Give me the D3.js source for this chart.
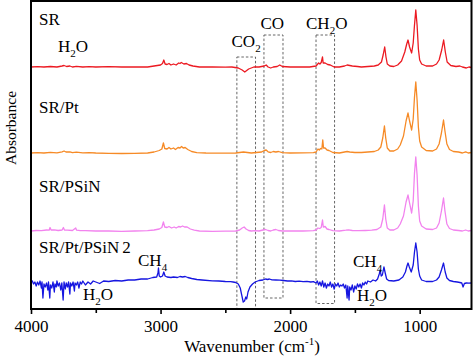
<!DOCTYPE html>
<html><head><meta charset="utf-8">
<script src="https://cdn.jsdelivr.net/npm/d3@7"></script>
<style>
body{margin:0;background:#fff}
svg text{font-family:"Liberation Serif","Times New Roman",Times,"DejaVu Serif",serif !important;fill:#000}
</style>
</head><body>
<svg id="c" width="474" height="358"></svg>
<script>
// ---------- data ----------
const xTicks = [4000, 3000, 2000, 1000];
const xMinorTicks = [3500, 2500, 1500];
const seriesNames = ["SR", "SR/Pt", "SR/PSiN", "SR/Pt/PSiN2"];
const seriesColors = ["#ec1a22", "#f68a26", "#f283ee", "#1616e0"];
const offsets = [2.42, 1.56, 0.78, 0.27];

const srData = [[4000,0],[3950,0.003],[3900,0],[3850,0.005],[3800,0],[3760,0.01],[3745,0.015],[3725,0.005],[3700,0.01],[3680,0],[3650,0.007],[3600,0],[3550,0.004],[3500,0],[3400,0.003],[3300,0],[3200,0.002],[3100,0],[3050,0.01],[3000,0.02],[2985,0.035],[2975,0.07],[2965,0.03],[2950,0.025],[2935,0.035],[2920,0.02],[2900,0.03],[2880,0.02],[2860,0.04],[2850,0.035],[2840,0.045],[2820,0.03],[2800,0.035],[2780,0.02],[2750,0.01],[2700,0],[2600,0],[2500,-0.002],[2450,0],[2400,-0.01],[2370,-0.03],[2350,-0.05],[2335,-0.035],[2320,-0.02],[2300,-0.01],[2280,0],[2240,0],[2200,0.01],[2185,0.02],[2170,0],[2150,-0.01],[2130,0],[2100,0.005],[2080,0.02],[2060,0.005],[2000,0],[1950,0.002],[1900,0],[1850,0],[1800,0.01],[1780,0.04],[1770,0.03],[1760,0.045],[1750,0.1],[1745,0.04],[1730,0.04],[1710,0.025],[1690,0.02],[1660,0],[1620,0],[1580,0.01],[1560,0.02],[1540,0.015],[1520,0.01],[1480,0.005],[1450,0],[1400,0.005],[1350,0.01],[1320,0.02],[1295,0.05],[1282,0.12],[1270,0.2],[1260,0.1],[1250,0.03],[1230,0.01],[1200,0.005],[1170,0.02],[1140,0.06],[1115,0.15],[1100,0.23],[1090,0.27],[1078,0.2],[1062,0.14],[1050,0.24],[1040,0.42],[1030,0.57],[1020,0.42],[1010,0.18],[1000,0.07],[985,0.03],[950,0.01],[900,0.01],[870,0.03],[850,0.07],[830,0.17],[815,0.27],[802,0.15],[788,0.05],[760,0.015],[720,0.005],[690,0.01],[670,0],[640,-0.01],[620,0],[600,-0.005]];

const srPtData = [[4000,0],[3950,0.003],[3900,0],[3850,0.006],[3800,0.002],[3760,0.012],[3745,0.02],[3730,0.01],[3700,0.012],[3680,0.004],[3650,0.008],[3600,0.002],[3550,0.004],[3500,0],[3400,-0.003],[3300,-0.005],[3200,-0.003],[3100,0],[3050,0.01],[3010,0.025],[2990,0.04],[2978,0.1],[2968,0.045],[2950,0.04],[2935,0.055],[2920,0.04],[2900,0.05],[2885,0.035],[2865,0.055],[2850,0.05],[2838,0.065],[2825,0.05],[2810,0.055],[2790,0.035],[2760,0.015],[2720,0.003],[2650,0],[2500,-0.002],[2420,0],[2390,0.005],[2360,0.01],[2330,0.005],[2300,0],[2260,0.005],[2220,0.01],[2200,0.025],[2185,0.03],[2170,0.012],[2150,0.005],[2130,0.015],[2110,0.01],[2090,0.015],[2060,0.003],[2000,0],[1900,0.002],[1820,0.003],[1800,0.01],[1785,0.04],[1775,0.03],[1765,0.045],[1755,0.04],[1748,0.13],[1742,0.05],[1730,0.05],[1715,0.03],[1700,0.025],[1670,0.005],[1620,0],[1580,0.01],[1560,0.015],[1540,0.01],[1500,0.005],[1450,0.005],[1400,0.01],[1350,0.015],[1320,0.03],[1300,0.06],[1285,0.15],[1272,0.27],[1262,0.15],[1250,0.05],[1230,0.02],[1200,0.02],[1170,0.04],[1150,0.08],[1125,0.17],[1105,0.32],[1090,0.4],[1078,0.32],[1062,0.23],[1050,0.34],[1040,0.56],[1030,0.71],[1020,0.53],[1010,0.26],[1000,0.12],[985,0.06],[950,0.025],[900,0.02],[870,0.04],[850,0.09],[832,0.2],[816,0.33],[805,0.22],[790,0.09],[770,0.035],[740,0.015],[700,0.01],[670,0],[645,0.012],[625,0],[600,0.005]];

const srPsinData = [[4000,0],[3960,0.005],[3920,0.003],[3880,0.01],[3860,0.008],[3853,0.035],[3845,0.01],[3820,0.012],[3790,0.005],[3760,0.01],[3750,0.035],[3742,0.01],[3720,0.008],[3680,0.005],[3655,0.03],[3648,0.008],[3620,0.004],[3580,0.003],[3500,0],[3400,0],[3300,-0.003],[3200,0],[3100,0.003],[3050,0.01],[3010,0.02],[2990,0.035],[2978,0.09],[2968,0.04],[2950,0.035],[2935,0.045],[2915,0.03],[2895,0.04],[2880,0.03],[2860,0.045],[2845,0.04],[2830,0.05],[2815,0.04],[2795,0.04],[2770,0.02],[2740,0.008],[2700,0],[2600,-0.003],[2500,-0.002],[2420,0],[2390,0.01],[2370,0.03],[2355,0.04],[2340,0.02],[2320,0.005],[2300,0],[2270,0.003],[2240,0],[2210,0.01],[2190,0.015],[2170,0.005],[2150,0],[2130,0.01],[2110,0.015],[2090,0.005],[2060,0],[2000,0],[1900,0],[1820,0.003],[1800,0.01],[1785,0.03],[1772,0.025],[1760,0.035],[1750,0.11],[1744,0.04],[1730,0.045],[1715,0.02],[1700,0.015],[1670,0.003],[1620,0],[1570,0.008],[1550,0.012],[1520,0.005],[1470,0.003],[1420,0.005],[1370,0.008],[1330,0.015],[1300,0.04],[1285,0.12],[1272,0.26],[1262,0.12],[1250,0.03],[1230,0.01],[1200,0.01],[1170,0.03],[1150,0.07],[1125,0.15],[1105,0.29],[1090,0.36],[1078,0.28],[1062,0.18],[1050,0.3],[1040,0.58],[1030,0.74],[1020,0.56],[1010,0.25],[1000,0.1],[985,0.05],[950,0.02],[900,0.015],[870,0.03],[850,0.08],[832,0.2],[816,0.33],[805,0.2],[790,0.07],[770,0.025],[740,0.01],[700,0.005],[670,0],[645,0.01],[625,0],[600,0.005]];

const srPtPsinData = [[4000,0],[3990,0.01],[3980,-0.02],[3970,0],[3960,-0.04],[3950,0],[3940,-0.03],[3930,0.01],[3920,-0.06],[3915,0],[3908,-0.16],[3900,-0.02],[3890,-0.05],[3880,-0.01],[3870,-0.08],[3865,0],[3855,-0.16],[3850,-0.03],[3840,-0.06],[3830,0],[3820,-0.1],[3815,-0.02],[3805,-0.05],[3800,0.01],[3790,-0.04],[3780,-0.01],[3770,-0.08],[3762,-0.01],[3752,-0.18],[3745,0],[3735,-0.07],[3728,-0.01],[3718,-0.05],[3710,0],[3700,-0.12],[3695,-0.01],[3685,-0.04],[3675,0],[3665,-0.09],[3660,-0.01],[3650,-0.03],[3640,0],[3630,-0.06],[3620,0],[3610,-0.02],[3600,0.01],[3580,-0.03],[3560,0],[3540,-0.02],[3520,0.01],[3500,0],[3470,-0.015],[3440,0.01],[3400,0.005],[3350,0.015],[3300,0.01],[3250,0.02],[3200,0.02],[3150,0.03],[3100,0.03],[3060,0.045],[3030,0.05],[3020,0.09],[3016,0.14],[3010,0.06],[3000,0.05],[2985,0.06],[2975,0.1],[2965,0.06],[2950,0.05],[2920,0.045],[2900,0.05],[2870,0.045],[2850,0.055],[2830,0.05],[2810,0.055],[2790,0.045],[2760,0.035],[2720,0.025],[2680,0.02],[2600,0.012],[2550,0.01],[2500,0.005],[2460,0.003],[2440,0],[2420,-0.005],[2400,-0.02],[2385,-0.06],[2372,-0.14],[2362,-0.2],[2352,-0.19],[2342,-0.15],[2335,-0.17],[2325,-0.1],[2310,-0.05],[2290,-0.02],[2270,0],[2240,0.015],[2210,0.02],[2190,0.03],[2175,0.025],[2160,0.03],[2140,0.022],[2110,0.02],[2080,0.018],[2050,0.015],[2020,0.01],[1990,0.012],[1960,0.005],[1930,0.008],[1900,0.003],[1870,0.006],[1840,0],[1820,0.004],[1800,-0.01],[1790,0.01],[1780,-0.03],[1770,0],[1760,-0.04],[1750,0.01],[1740,-0.05],[1730,-0.01],[1720,-0.06],[1710,-0.02],[1700,-0.04],[1690,0],[1680,-0.05],[1670,-0.02],[1660,-0.07],[1650,-0.02],[1640,-0.04],[1630,-0.01],[1620,-0.05],[1610,-0.03],[1600,-0.04],[1590,-0.02],[1580,-0.06],[1570,-0.03],[1560,-0.16],[1555,-0.04],[1545,-0.18],[1540,-0.05],[1530,-0.08],[1520,-0.03],[1510,-0.1],[1500,-0.04],[1490,-0.07],[1480,-0.02],[1470,-0.05],[1460,-0.02],[1450,-0.06],[1440,-0.01],[1430,-0.03],[1420,0],[1410,-0.02],[1400,0.01],[1380,0],[1360,0.02],[1340,0.01],[1325,0.03],[1312,0.08],[1305,0.12],[1297,0.06],[1288,0.07],[1276,0.15],[1266,0.09],[1255,0.03],[1240,0.015],[1200,0.01],[1160,0.02],[1130,0.05],[1110,0.1],[1098,0.16],[1090,0.19],[1080,0.15],[1065,0.1],[1050,0.17],[1040,0.3],[1030,0.39],[1020,0.3],[1010,0.13],[1000,0.06],[985,0.02],[950,0.005],[900,0.005],[870,0.02],[850,0.05],[832,0.12],[816,0.19],[803,0.1],[790,0.04],[770,0.015],[740,0.005],[710,0],[690,-0.005],[675,-0.01],[665,-0.05],[655,-0.015],[640,-0.01],[620,-0.012],[600,-0.01]];

const seriesData = [srData, srPtData, srPsinData, srPtPsinData];

// annotation boxes: wavenumber range and absorbance top/bottom
const boxLefts = [2411, 2202, 1800];
const boxRights = [2267, 2055, 1657];
const boxTops = [2.52, 2.74, 2.74];
const boxBottoms = [0, 0.11, 0.055];

// ---------- chart ----------
const FONT = '"Liberation Serif","Times New Roman",Times,"DejaVu Serif",serif';
const svg = d3.select("#c");
const x = d3.scaleLinear().domain([4000, 600]).range([31, 471.5]);
const y = d3.scaleLinear().domain([0, 3.07]).range([309, 2]);

svg.append("defs").append("clipPath").attr("id", "clip")
  .append("rect").attr("x", 31).attr("y", 1).attr("width", 440.5).attr("height", 308);

// dashed boxes
const gb = svg.append("g");
boxLefts.forEach((l, i) => {
  gb.append("rect")
    .attr("x", x(l)).attr("y", y(boxTops[i]))
    .attr("width", x(boxRights[i]) - x(l))
    .attr("height", y(boxBottoms[i]) - y(boxTops[i]))
    .attr("fill", "none").attr("stroke", "#555").attr("stroke-width", 0.9)
    .attr("stroke-dasharray", "2.5,2");
});

// spectra
const gl = svg.append("g").attr("clip-path", "url(#clip)");
seriesData.forEach((d, i) => {
  const line = d3.line().x(p => x(p[0])).y(p => y(p[1] + offsets[i]));
  gl.append("path").datum(d).attr("d", line)
    .attr("fill", "none").attr("stroke", seriesColors[i])
    .attr("stroke-width", 1.3).attr("stroke-linejoin", "round");
});

// axis
const ax = svg.append("g").attr("transform", "translate(0,309)")
  .call(d3.axisBottom(x).tickValues(xTicks).tickFormat(d3.format("d"))
    .tickSize(5).tickSizeOuter(0).tickPadding(6));
ax.attr("font-family", FONT).attr("font-size", 17);
ax.select(".domain").remove();
ax.selectAll("line").attr("stroke", "#000").attr("stroke-width", 1.6);
ax.selectAll("text").attr("fill", "#000");
const axm = svg.append("g").attr("transform", "translate(0,309)")
  .call(d3.axisBottom(x).tickValues(xMinorTicks).tickSize(4).tickSizeOuter(0).tickFormat(""));
axm.select(".domain").remove();
axm.selectAll("line").attr("stroke", "#000").attr("stroke-width", 1.6);

// frame
svg.append("rect").attr("x", 31).attr("y", 1).attr("width", 440.5).attr("height", 308)
  .attr("fill", "none").attr("stroke", "#000").attr("stroke-width", 2);

// axis titles
const xt = svg.append("text").attr("x", 252).attr("y", 352).attr("text-anchor", "middle")
  .attr("font-family", FONT).attr("font-size", 17);
xt.append("tspan").text("Wavenumber (cm");
xt.append("tspan").text("-1").attr("font-size", 11).attr("dy", -7);
xt.append("tspan").text(")").attr("dy", 7);

svg.append("text").attr("transform", "translate(16,128) rotate(-90)")
  .attr("text-anchor", "middle").attr("font-family", FONT).attr("font-size", 15.5)
  .text("Absorbance");

// series labels
const labelY = [25, 113, 192, 253];
seriesNames.forEach((n, i) => {
  const t = svg.append("text").attr("x", 39).attr("y", labelY[i])
    .attr("font-family", FONT).attr("font-size", 17);
  if (n === "SR/Pt/PSiN2") {
    t.append("tspan").text("SR/Pt/PSiN");
    t.append("tspan").attr("dx", 3).text("2");
  } else t.text(n);
});

// chemical labels with subscripts
function chem(px, py, main, sub, tail) {
  const t = svg.append("text").attr("x", px).attr("y", py)
    .attr("font-family", FONT).attr("font-size", 17);
  t.append("tspan").text(main);
  if (sub) t.append("tspan").text(sub).attr("font-size", 11).attr("dy", 5);
  if (tail) t.append("tspan").text(tail).attr("dy", -5);
}
chem(58, 52, "H", "2", "O");
chem(231.5, 47, "CO", "2", "");
chem(260.5, 28.5, "CO", "", "");
chem(306, 28.5, "CH", "2", "O");
chem(138, 266, "CH", "4", "");
chem(83, 300, "H", "2", "O");
chem(353, 267, "CH", "4", "");
chem(357, 301, "H", "2", "O");
</script>
</body></html>
